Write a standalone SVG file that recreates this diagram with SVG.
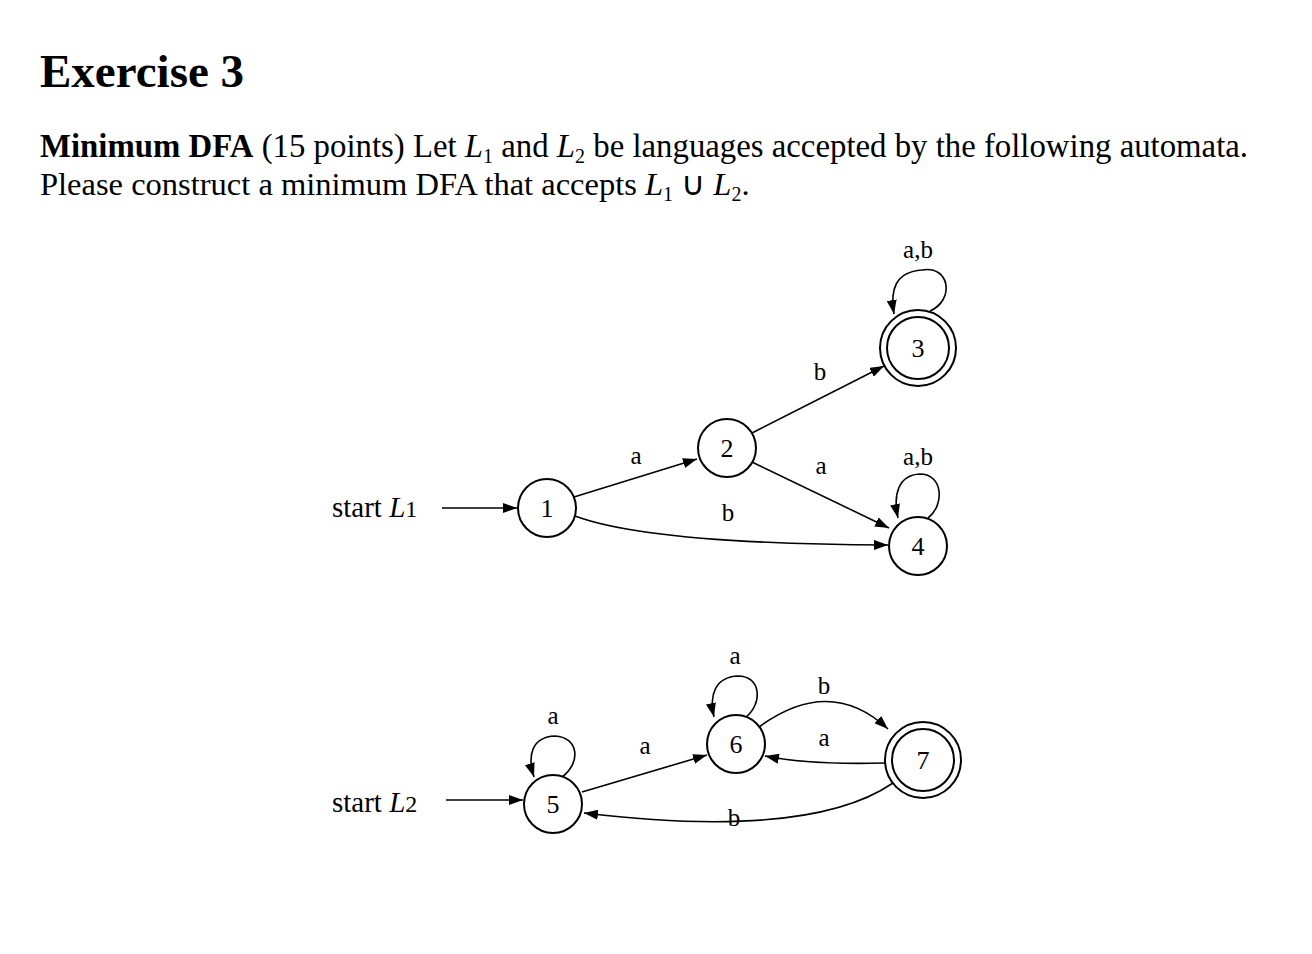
<svg xmlns="http://www.w3.org/2000/svg" width="1312" height="954" viewBox="0 0 1312 954">
<style>
.t{font-family:"Liberation Serif",serif;fill:#000}
.n circle{fill:#fff;stroke:#000;stroke-width:2}
.n text{font-family:"Liberation Serif",serif;font-size:26px;text-anchor:middle}
.e path{fill:none;stroke:#000;stroke-width:1.6}
.l{font-family:"Liberation Serif",serif;font-size:25px;text-anchor:middle}
</style>
<defs><marker id="ah" viewBox="0 0 14 10" refX="14" refY="5" markerWidth="14" markerHeight="10" markerUnits="userSpaceOnUse" orient="auto"><path d="M0,0L14,5L0,10z"/></marker></defs>
<rect width="1312" height="954" fill="#fff"/>
<text class="t" x="40" y="87" font-size="47" font-weight="bold">Exercise 3</text>
<text class="t" x="40" y="157" font-size="32.8"><tspan font-weight="bold">Minimum DFA</tspan> (15 points) Let <tspan font-style="italic">L</tspan><tspan font-size="20" dy="6">1</tspan><tspan dy="-6"> and </tspan><tspan font-style="italic">L</tspan><tspan font-size="20" dy="6">2</tspan><tspan dy="-6"> be languages accepted by the following automata.</tspan></text>
<text class="t" x="40" y="195" font-size="32.5">Please construct a minimum DFA that accepts <tspan font-style="italic">L</tspan><tspan font-size="20" dy="6">1</tspan><tspan dy="-6"> ∪ </tspan><tspan font-style="italic">L</tspan><tspan font-size="20" dy="6">2</tspan><tspan dy="-6">.</tspan></text>
<text class="t" x="332" y="517" font-size="29">start <tspan font-style="italic">L</tspan><tspan font-size="24">1</tspan></text>
<text class="t" x="332" y="812" font-size="29">start <tspan font-style="italic">L</tspan><tspan font-size="24">2</tspan></text>
<g id="edges" class="e">
<path d="M442,508H517" marker-end="url(#ah)"/>
<path d="M446,800H523" marker-end="url(#ah)"/>
<path d="M574,497L697,459" marker-end="url(#ah)"/>
<path d="M752,433L884,366" marker-end="url(#ah)"/>
<path d="M752,462L889,528" marker-end="url(#ah)"/>
<path d="M575,516Q650,544 888,545" marker-end="url(#ah)"/>
<path d="M930,311C955,300 950,265 922,270C895,272 890,290 894,314" marker-end="url(#ah)"/>
<path d="M928,518C945,505 943,474 920,474C898,475 893,495 898,518" marker-end="url(#ah)"/>
<path d="M562,777C582,762 578,737 555,736C532,737 527,755 534,777" marker-end="url(#ah)"/>
<path d="M582,792L707,755" marker-end="url(#ah)"/>
<path d="M746,717C763,703 761,676 738,676C715,677 709,695 714,717" marker-end="url(#ah)"/>
<path d="M759,727Q830,675 888,729" marker-end="url(#ah)"/>
<path d="M885,763Q810,765 765,756" marker-end="url(#ah)"/>
<path d="M893,783Q810,840 584,813" marker-end="url(#ah)"/>
</g>
<g class="l">
<text x="636" y="464">a</text><text x="820" y="380">b</text><text x="821" y="474">a</text><text x="728" y="521">b</text>
<text x="918" y="258">a,b</text><text x="918" y="465">a,b</text><text x="553" y="724">a</text><text x="645" y="754">a</text>
<text x="735" y="664">a</text><text x="824" y="694">b</text><text x="824" y="746">a</text><text x="734" y="826">b</text>
</g>
<g id="n1" class="n"><circle cx="547" cy="508" r="29"/><text x="547" y="517">1</text></g>
<g id="n2" class="n"><circle cx="727" cy="448" r="29"/><text x="727" y="457">2</text></g>
<g id="n3" class="n"><circle cx="918" cy="348" r="38"/><circle cx="918" cy="348" r="31"/><text x="918" y="357">3</text></g>
<g id="n4" class="n"><circle cx="918" cy="546" r="29"/><text x="918" y="555">4</text></g>
<g id="n5" class="n"><circle cx="553" cy="804" r="29"/><text x="553" y="813">5</text></g>
<g id="n6" class="n"><circle cx="736" cy="744" r="29"/><text x="736" y="753">6</text></g>
<g id="n7" class="n"><circle cx="923" cy="760" r="38"/><circle cx="923" cy="760" r="31"/><text x="923" y="769">7</text></g>
</svg>
